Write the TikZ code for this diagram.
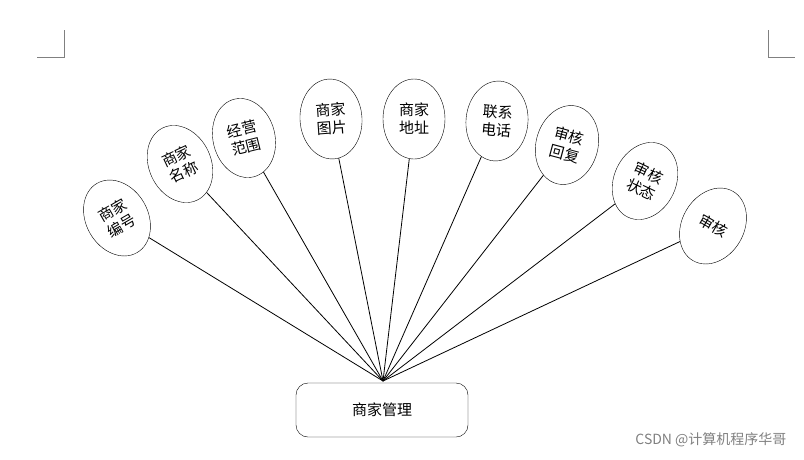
\documentclass[tikz,border=0pt]{standalone}
\usepackage{fontspec}
\usetikzlibrary{shapes.geometric}
\newfontfamily\cjk{Noto Sans CJK SC}
\begin{document}
\begin{tikzpicture}[x=1pt,y=-1pt,
  attr/.style={draw,ellipse,minimum width=62pt,minimum height=80pt,inner sep=0pt,font=\cjk\fontsize{15}{18}\selectfont,align=center,fill=white},
  ent/.style={draw,rounded corners=12pt,minimum width=172pt,minimum height=54pt,font=\cjk\fontsize{15}{18}\selectfont},
  link/.style={draw,line width=0.8pt},
  cornermark/.style={draw,gray,line width=0.6pt}]
\useasboundingbox (0,0) rectangle (804,459);
\draw[cornermark] (64,30) -- (64,57) -- (37,57);
\draw[cornermark] (768,30) -- (768,57) -- (795,57);
\node[ent] (m) at (382,410) {商家管理};
\coordinate (hub) at (383,381);
\node[attr,rotate=30] (a1) at (117,218) {商家\\编号};
\node[attr,rotate=25] (a2) at (180,164) {商家\\名称};
\node[attr,rotate=14] (a3) at (244,138) {经营\\范围};
\node[attr,rotate=4] (a4) at (331,119) {商家\\图片};
\node[attr,rotate=0] (a5) at (414,119) {商家\\地址};
\node[attr,rotate=-5] (a6) at (497,121) {联系\\电话};
\node[attr,rotate=-15] (a7) at (567,145) {审核\\回复};
\node[attr,rotate=-25] (a8) at (645,181) {审核\\状态};
\node[attr,rotate=-30] (a9) at (713,226) {审核};
\foreach \i in {1,...,9} \draw[link] (a\i) -- (hub);
\node[anchor=east,font=\cjk\fontsize{14}{16}\selectfont,text=gray] (wm) at (790,440) {CSDN @计算机程序华哥};
\end{tikzpicture}
\end{document}
